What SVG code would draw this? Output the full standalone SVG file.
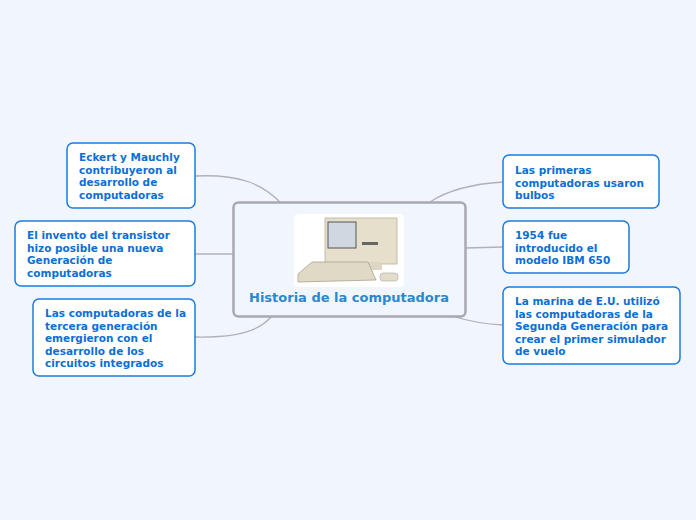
<svg xmlns="http://www.w3.org/2000/svg" width="696" height="520" viewBox="0 0 696 520">
<style>
.n{fill:#fff;stroke:#1a7ce0;stroke-width:1.5}
.t{font-family:"DejaVu Sans",sans-serif;font-weight:bold;font-size:10.5px;fill:#0b6fd6}
.c{fill:none;stroke:#b0b0b8;stroke-width:1.3}
</style>
<rect width="696" height="520" fill="#f1f5fd"/>
<g id="connectors">
<path class="c" d="M195,176 C240,174 262,184 280,202"/>
<path class="c" d="M195,254 L233,254"/>
<path class="c" d="M195,337 C240,338 260,330 272,316"/>
<path class="c" d="M503,182 C470,184 448,190 430,202"/>
<path class="c" d="M503,247 L465,248"/>
<path class="c" d="M503,325 C480,324 465,320 452,316"/>
</g>
<g id="center">
<rect x="233.5" y="202.5" width="232" height="114" rx="5" fill="#f1f5fd" stroke="#a8a8b0" stroke-width="2.5"/>
<rect x="294" y="214" width="110" height="73" rx="4" fill="#fff"/>
<rect x="325" y="218" width="72" height="46" fill="#e6dfcc" stroke="#b8b09a" stroke-width="0.8"/>
<rect x="328" y="222" width="28" height="26" fill="#cfd8e0" stroke="#555" stroke-width="1"/>
<rect x="362" y="242" width="16" height="3" fill="#666"/>
<rect x="336" y="262" width="46" height="8" fill="#ddd6c2"/>
<polygon points="298,274 312,262 368,262 376,280 298,282" fill="#e0d9c6" stroke="#a9a290" stroke-width="0.8"/>
<rect x="380" y="273" width="18" height="8" rx="3" fill="#e3dcc9" stroke="#aaa" stroke-width="0.6"/>
<text x="349" y="302" text-anchor="middle" font-family="DejaVu Sans,sans-serif" font-weight="bold" font-size="13px" fill="#2a88d0">Historia de la computadora</text>
</g>
<g id="n1"><rect class="n" x="67" y="143" width="128" height="65" rx="6"/>
<text class="t"><tspan x="79" y="161">Eckert y Mauchly</tspan><tspan x="79" y="173.5">contribuyeron al</tspan><tspan x="79" y="186">desarrollo de</tspan><tspan x="79" y="198.5">computadoras</tspan></text></g>
<g id="n2"><rect class="n" x="15" y="221" width="180" height="65" rx="6"/>
<text class="t"><tspan x="27" y="239">El invento del transistor</tspan><tspan x="27" y="251.5">hizo posible una nueva</tspan><tspan x="27" y="264">Generación de</tspan><tspan x="27" y="276.5">computadoras</tspan></text></g>
<g id="n3"><rect class="n" x="33" y="299" width="162" height="77" rx="6"/>
<text class="t"><tspan x="45" y="317">Las computadoras de la</tspan><tspan x="45" y="329.5">tercera generación</tspan><tspan x="45" y="342">emergieron con el</tspan><tspan x="45" y="354.5">desarrollo de los</tspan><tspan x="45" y="367">circuitos integrados</tspan></text></g>
<g id="n4"><rect class="n" x="503" y="155" width="156" height="53" rx="6"/>
<text class="t"><tspan x="515" y="174">Las primeras</tspan><tspan x="515" y="186.5">computadoras usaron</tspan><tspan x="515" y="199">bulbos</tspan></text></g>
<g id="n5"><rect class="n" x="503" y="221" width="126" height="52" rx="6"/>
<text class="t"><tspan x="515" y="239">1954 fue</tspan><tspan x="515" y="251.5">introducido el</tspan><tspan x="515" y="264">modelo IBM 650</tspan></text></g>
<g id="n6"><rect class="n" x="503" y="287" width="177" height="77" rx="6"/>
<text class="t"><tspan x="515" y="305">La marina de E.U. utilizó</tspan><tspan x="515" y="317.5">las computadoras de la</tspan><tspan x="515" y="330">Segunda Generación para</tspan><tspan x="515" y="342.5">crear el primer simulador</tspan><tspan x="515" y="355">de vuelo</tspan></text></g>
</svg>
